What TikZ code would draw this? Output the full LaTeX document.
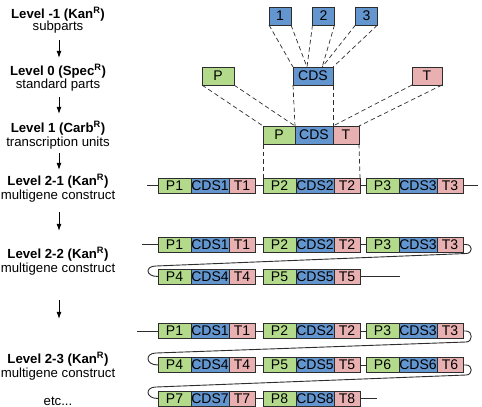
\documentclass[tikz,border=0pt]{standalone}
\usepackage{fontspec}
\setmainfont{Liberation Sans}
\usetikzlibrary{arrows.meta,calc}
\definecolor{pgreen}{RGB}{178,218,138}
\definecolor{cblue}{RGB}{99,149,206}
\definecolor{tpink}{RGB}{232,176,176}
\definecolor{edgec}{RGB}{45,45,45}
\newcommand{\gunit}[4]{%
  \node[pbox, anchor=west] (#1p) at (#2,#3) {P#4};
  \node[cbox, anchor=west] (#1c) at (#1p.east) {CDS#4};
  \node[tbox, anchor=west] (#1t) at (#1c.east) {T#4};
}
\tikzset{
  part/.style={draw=edgec, line width=0.9pt, inner sep=0pt, outer sep=0pt,
    minimum height=15pt, font=\fontsize{14}{16}\selectfont},
  pbox/.style={part, fill=pgreen, minimum width=33pt},
  cbox/.style={part, fill=cblue, minimum width=38pt},
  tbox/.style={part, fill=tpink, minimum width=26pt},
  big/.style={minimum height=18pt},
  backbone/.style={draw=edgec, line width=0.9pt},
  guide/.style={draw=edgec, line width=0.7pt, dash pattern=on 4.5pt off 3pt},
  lvl/.style={anchor=base, inner sep=0pt, text height=10pt, text depth=3pt,
    font=\bfseries\fontsize{13.2}{15}\selectfont},
  sub/.style={anchor=base, inner sep=0pt, text height=10pt, text depth=3pt,
    font=\fontsize{13.2}{15}\selectfont},
  flow/.style={draw=black, line width=0.8pt, -{Latex[length=7pt,width=5pt]}}
}
\begin{document}
\begin{tikzpicture}[x=1pt,y=-1pt]
\useasboundingbox (0,0) rectangle (482,407);
% ---- left column ----
\node[lvl] (L0t) at (58,18) {Level -1 (Kan\textsuperscript{R})};
\node[sub] (L0s) at (58,30.5) {subparts};
\node[lvl] (L1t) at (58,75) {Level 0 (Spec\textsuperscript{R})};
\node[sub] (L1s) at (58,88.5) {standard parts};
\node[lvl] (L2t) at (58,132) {Level 1 (Carb\textsuperscript{R})};
\node[sub] (L2s) at (58,146) {transcription units};
\node[lvl] (L3t) at (58,185) {Level 2-1 (Kan\textsuperscript{R})};
\node[sub] (L3s) at (58,199) {multigene construct};
\node[lvl] (L4t) at (58,258) {Level 2-2 (Kan\textsuperscript{R})};
\node[sub] (L4s) at (58,272.5) {multigene construct};
\node[lvl] (L5t) at (58,363) {Level 2-3 (Kan\textsuperscript{R})};
\node[sub] (L5s) at (58,377) {multigene construct};
\node[sub] (etc) at (58,405) {etc...};
\draw[flow, shorten <=6.5pt, shorten >=7pt] (L0s.south -| 59,0) -- (L1t.north -| 59,0);
\draw[flow, shorten <=5.5pt, shorten >=8pt] (L1s.south -| 59,0) -- (L2t.north -| 59,0);
\draw[flow, shorten <=4pt, shorten >=5pt] (L2s.south -| 59,0) -- (L3t.north -| 59,0);
\draw[flow, shorten <=10pt, shorten >=17pt] (L3s.south -| 59,0) -- (L4t.north -| 59,0);
\draw[flow, shorten <=24.5pt, shorten >=34pt] (L4s.south -| 59,0) -- (L5t.north -| 59,0);
% ---- level -1 ----
\node[cbox, big, minimum width=22pt] (s1) at (280,16) {1};
\node[cbox, big, minimum width=22pt] (s2) at (323.5,16) {2};
\node[cbox, big, minimum width=22pt] (s3) at (366.5,16) {3};
% ---- level 0 ----
\node[pbox, big, minimum width=32pt, anchor=west] (p0) at (202,76) {P};
\node[cbox, big, minimum width=40pt, anchor=west] (c0) at (293,76) {CDS};
\node[tbox, big, minimum width=30pt, anchor=west] (t0) at (412,76) {T};
\coordinate (q1) at ($(c0.north west)!0.35!(c0.north east)$);
\coordinate (q2) at ($(c0.north west)!0.73!(c0.north east)$);
\draw[guide] (s1.south west) -- (c0.north west);
\draw[guide] (s1.south east) -- (q1);
\draw[guide] (s2.south west) -- (q1);
\draw[guide] (s2.south east) -- (q2);
\draw[guide] (s3.south west) -- (q2);
\draw[guide] (s3.south east) -- (c0.north east);
% ---- level 1 ----
\node[pbox, big, minimum width=32pt, anchor=west] (p1) at (263,135) {P};
\node[cbox, big, anchor=west] (c1) at (p1.east) {CDS};
\node[tbox, big, anchor=west] (t1) at (c1.east) {T};
\draw[guide] (p0.south west) -- (p1.north west);
\draw[guide] (p0.south east) -- (p1.north east);
\draw[guide] (c0.south west) -- (c1.north west);
\draw[guide] (c0.south east) -- (c1.north east);
\draw[guide] (t0.south west) -- (t1.north west);
\draw[guide] (t0.south east) -- (t1.north east);
% ---- level 2-1 ----
\gunit{a1}{158}{185.5}{1}
\gunit{a2}{263}{185.5}{2}
\gunit{a3}{366}{185.5}{3}
\draw[guide] (p1.south west) -- (a2p.north west);
\draw[guide] (t1.south east) -- (a2t.north east);
\coordinate (a0) at (147,185.5);
\coordinate (a9) at (478,185.5);
\draw[backbone] (a0) -- (a1p.west);
\draw[backbone] (a1t.east) -- (a2p.west);
\draw[backbone] (a2t.east) -- (a3p.west);
\draw[backbone] (a3t.east) -- (a9);
% ---- level 2-2 ----
\gunit{b1}{158}{244.5}{1}
\gunit{b2}{263}{244.5}{2}
\gunit{b3}{366}{244.5}{3}
\gunit{b4}{158}{276.5}{4}
\gunit{b5}{263}{276.5}{5}
\coordinate (b0) at (142,244.5);
\coordinate (b9) at (400,276.5);
\draw[backbone] (b0) -- (b1p.west);
\draw[backbone] (b1t.east) -- (b2p.west);
\draw[backbone] (b2t.east) -- (b3p.west);
\draw[backbone] (b3t.east) -- (466,244.5) .. controls (473,244.5) and (473,253.5) .. (466,253.5)
  -- (156,266) .. controls (145,266) and (145,276.5) .. (b4p.west);
\draw[backbone] (b4t.east) -- (b5p.west);
\draw[backbone] (b5t.east) -- (b9);
% ---- level 2-3 ----
\gunit{c1}{158}{331}{1}
\gunit{c2}{263}{331}{2}
\gunit{c3}{366}{331}{3}
\gunit{c4}{158}{365}{4}
\gunit{c5}{263}{365}{5}
\gunit{c6}{366}{365}{6}
\gunit{c7}{158}{398.5}{7}
\gunit{c8}{263}{398.5}{8}
\coordinate (e0) at (137,331);
\coordinate (e9) at (377,398.5);
\draw[backbone] (e0) -- (c1p.west);
\draw[backbone] (c1t.east) -- (c2p.west);
\draw[backbone] (c2t.east) -- (c3p.west);
\draw[backbone] (c3t.east) -- (466,331) .. controls (473,331) and (473,342) .. (466,342)
  -- (156,353) .. controls (145,353) and (145,365) .. (c4p.west);
\draw[backbone] (c4t.east) -- (c5p.west);
\draw[backbone] (c5t.east) -- (c6p.west);
\draw[backbone] (c6t.east) -- (466,365) .. controls (473,365) and (473,375) .. (466,375)
  -- (156,387) .. controls (145,387) and (145,398.5) .. (c7p.west);
\draw[backbone] (c7t.east) -- (c8p.west);
\draw[backbone] (c8t.east) -- (e9);
\end{tikzpicture}
\end{document}
